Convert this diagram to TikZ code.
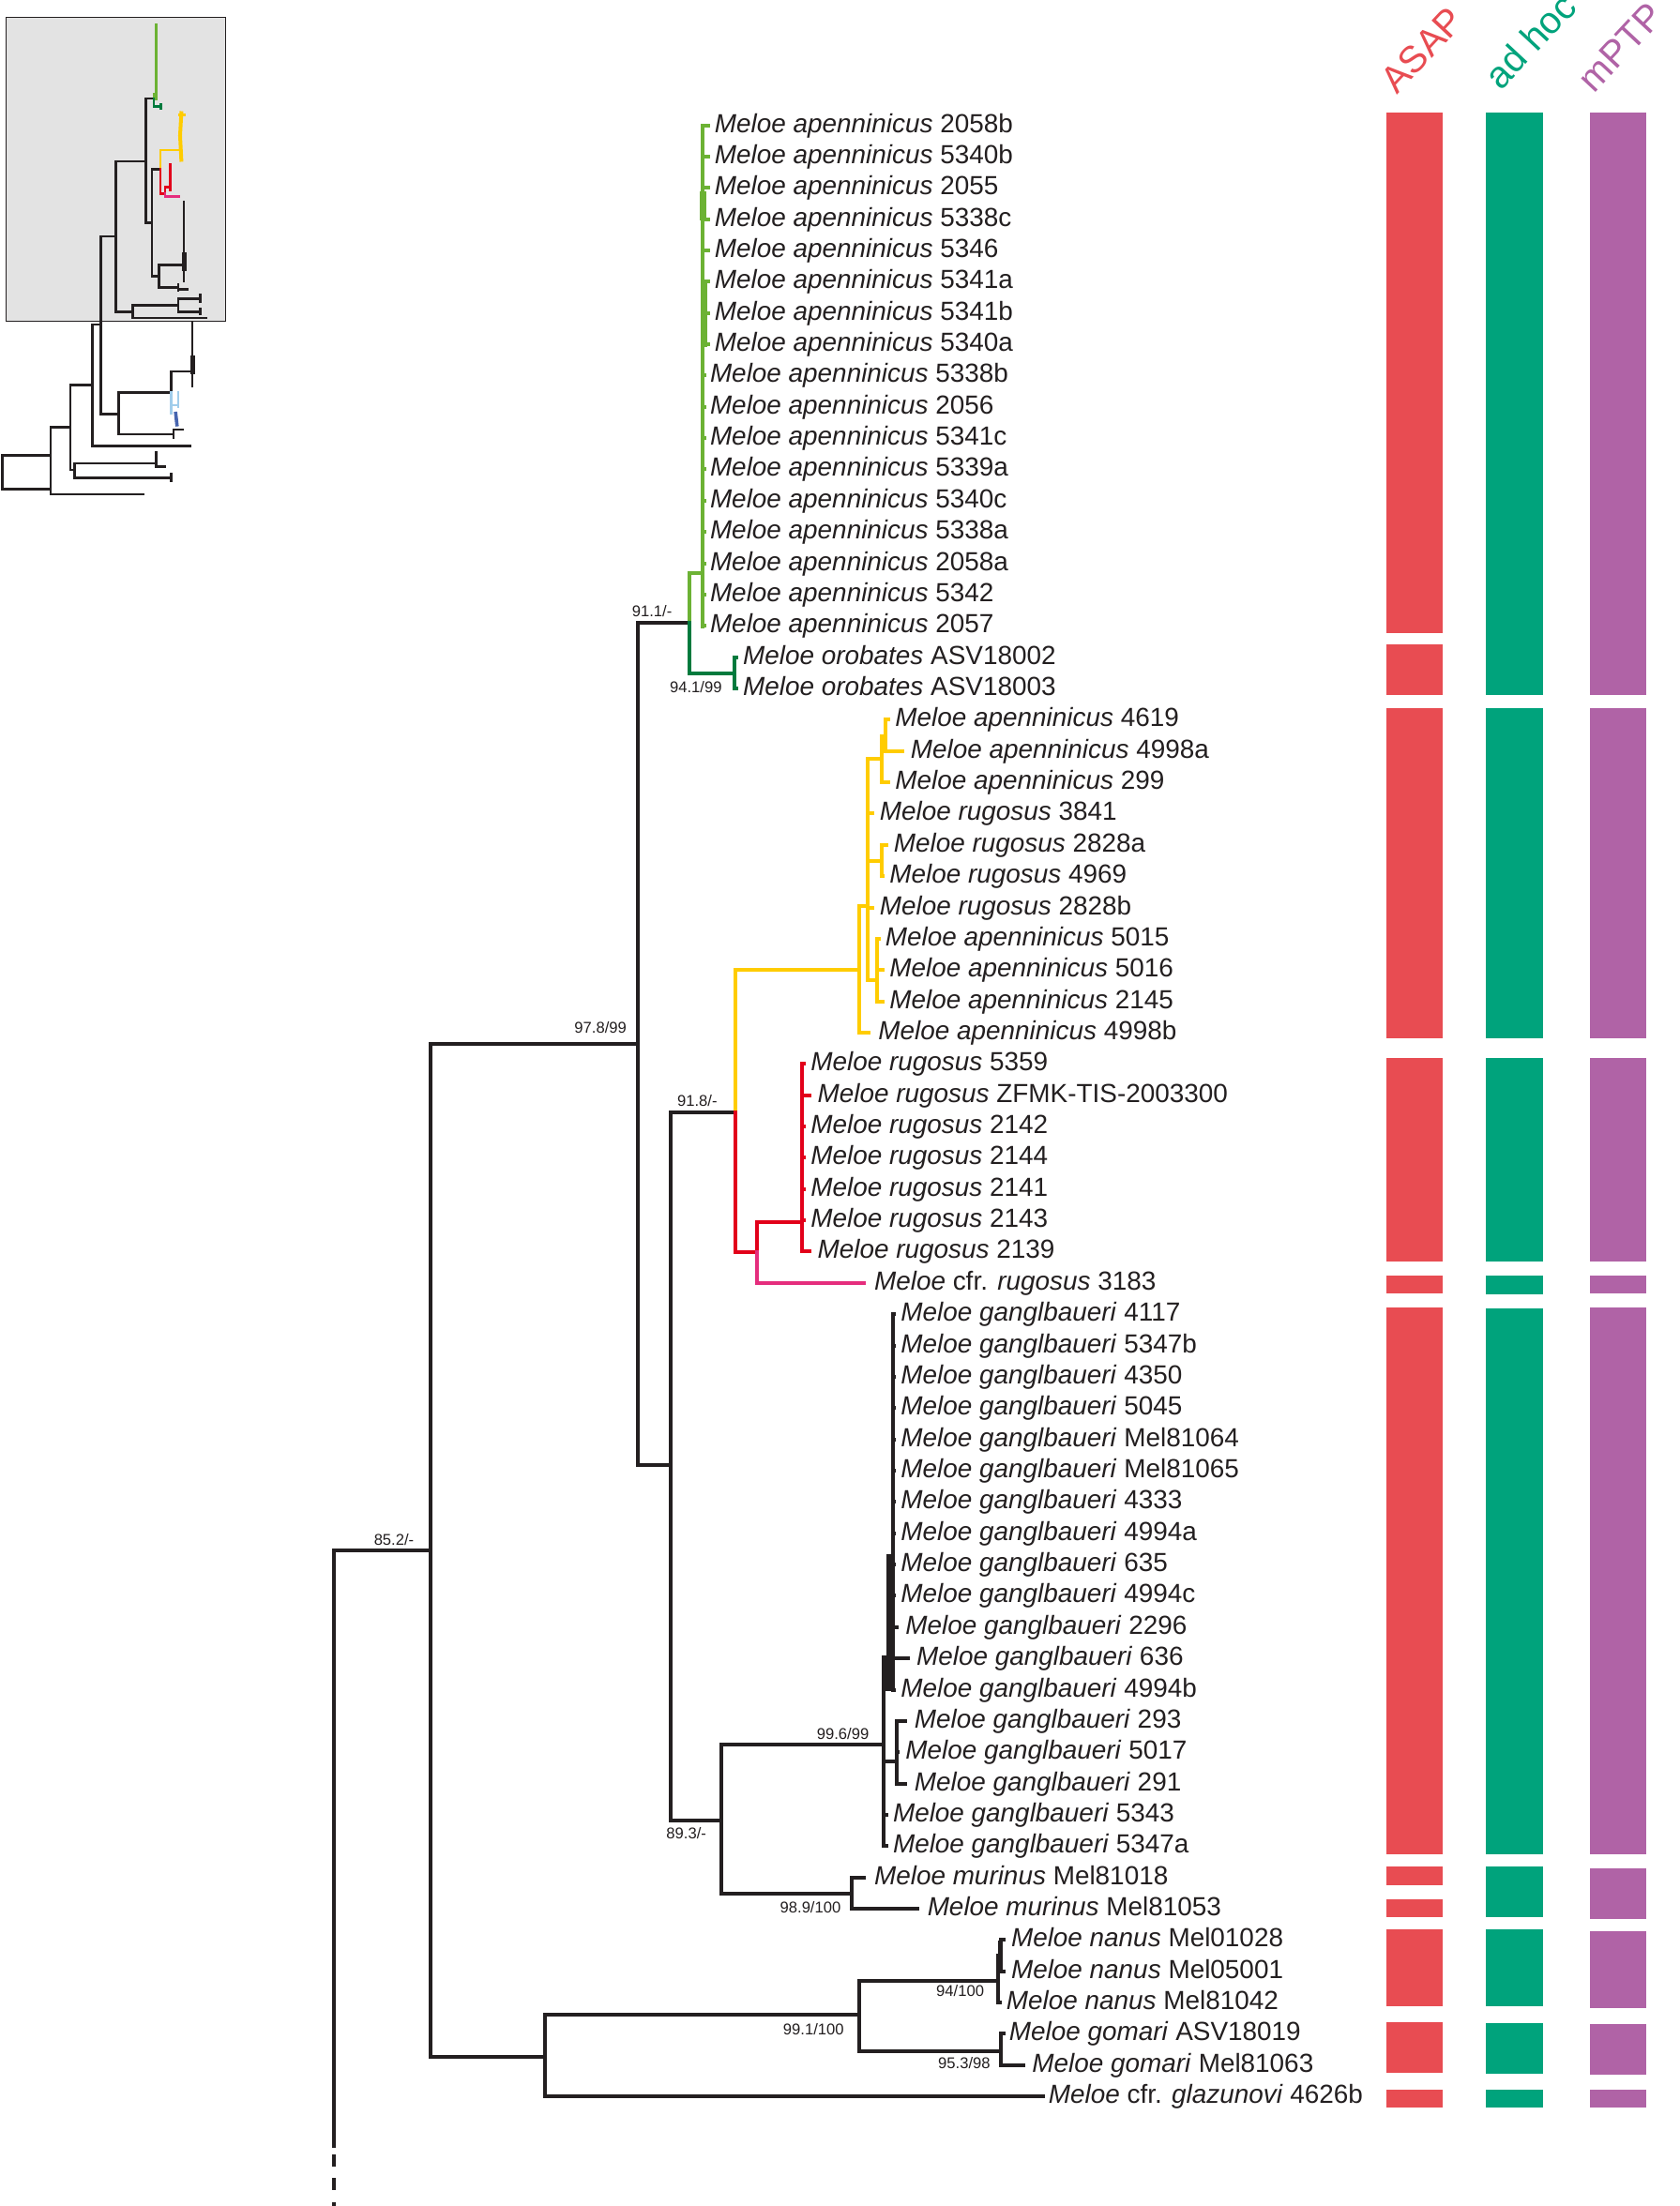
\documentclass[tikz,border=0pt]{standalone}
\usepackage{fontspec}
\setmainfont{Liberation Sans}
\definecolor{tblack}{RGB}{35,31,32}
\definecolor{lgreen}{RGB}{108,178,52}
\definecolor{dgreen}{RGB}{0,122,61}
\definecolor{tyellow}{RGB}{255,204,0}
\definecolor{tred}{RGB}{226,0,26}
\definecolor{tpink}{RGB}{229,45,125}
\definecolor{asap}{RGB}{232,76,82}
\definecolor{adhoc}{RGB}{0,163,124}
\definecolor{mptp}{RGB}{176,99,166}
\definecolor{insetgray}{RGB}{227,227,227}
\definecolor{lblue}{RGB}{160,205,235}
\definecolor{dblue}{RGB}{70,100,175}
\begin{document}
\begin{tikzpicture}[x=0.75pt,y=-0.75pt,
  br/.style={line width=2pt,draw=tblack,line cap=rect},
  brlg/.style={br,draw=lgreen},
  brdg/.style={br,draw=dgreen},
  bry/.style={br,draw=tyellow},
  brr/.style={br,draw=tred},
  brp/.style={br,draw=tpink},
  lab/.style={anchor=base west,inner sep=0pt,text=tblack,font=\fontsize{13.95}{16}\selectfont},
  sup/.style={anchor=east,inner sep=0pt,text=tblack,font=\fontsize{8.3}{10}\selectfont},
  hdr/.style={anchor=base west,inner sep=0pt,rotate=47,font=\fontsize{20}{24}\selectfont},
  ins/.style={line width=1.3pt,draw=tblack,line cap=rect}]
\useasboundingbox (0,0) rectangle (1194,1568);
\fill[white] (0,0) rectangle (1194,1568);

% ---------------- leaves ----------------
\foreach \i/\lx/\tx/\sp/\id in {
 0/507.7/503/apenninicus/2058b, 1/507.7/503/apenninicus/5340b, 2/507.7/503/apenninicus/2055,
 3/507.7/503/apenninicus/5338c, 4/507.7/503/apenninicus/5346, 5/507.7/503/apenninicus/5341a,
 6/507.7/503/apenninicus/5341b, 7/507.7/503/apenninicus/5340a, 8/504.4/500.5/apenninicus/5338b,
 9/504.4/500.5/apenninicus/2056, 10/504.4/500.5/apenninicus/5341c, 11/504.4/500.5/apenninicus/5339a,
 12/504.4/500.5/apenninicus/5340c, 13/504.4/500.5/apenninicus/5338a, 14/504.4/500.5/apenninicus/2058a,
 15/504.4/500.5/apenninicus/5342, 16/504.4/500.5/apenninicus/2057,
 17/527.8/523.5/orobates/ASV18002, 18/527.8/523.5/orobates/ASV18003,
 19/636/631/apenninicus/4619, 20/647/641/apenninicus/4998a, 21/636/631/apenninicus/299,
 22/625/620/rugosus/3841, 23/635/630/rugosus/2828a, 24/632/627.5/rugosus/4969,
 25/625/620/rugosus/2828b, 26/629/624.5/apenninicus/5015, 27/632/627/apenninicus/5016,
 28/632/627/apenninicus/2145, 29/624/617/apenninicus/4998b,
 30/576/571.5/rugosus/5359, 31/580.8/575/rugosus/ZFMK-TIS-2003300, 32/576/571.5/rugosus/2142,
 33/576/571.5/rugosus/2144, 34/576/571.5/rugosus/2141, 35/576/571.5/rugosus/2143,
 36/580.8/575/rugosus/2139,
 38/640/635.5/ganglbaueri/4117, 39/640/635.5/ganglbaueri/5347b, 40/640/635.5/ganglbaueri/4350,
 41/640/635.5/ganglbaueri/5045, 42/640/635.5/ganglbaueri/Mel81064, 43/640/635.5/ganglbaueri/Mel81065,
 44/640/635.5/ganglbaueri/4333, 45/640/635.5/ganglbaueri/4994a, 46/640/635.5/ganglbaueri/635,
 47/640/635.5/ganglbaueri/4994c, 48/643.3/637.5/ganglbaueri/2296, 49/651.1/645/ganglbaueri/636,
 50/640/635.5/ganglbaueri/4994b, 51/649.6/643/ganglbaueri/293, 52/643.3/638/ganglbaueri/5017,
 53/649.6/643/ganglbaueri/291, 54/634.4/630/ganglbaueri/5343, 55/634.4/630/ganglbaueri/5347a,
 56/621.1/614/murinus/Mel81018, 57/658.9/652/murinus/Mel81053,
 58/718.4/713.5/nanus/Mel01028, 59/718.4/713.5/nanus/Mel05001, 60/715/710.5/nanus/Mel81042,
 61/717/713/gomari/ASV18019, 62/733.3/727.5/gomari/Mel81063}
{
  \coordinate (t\i) at (\tx,{89+22.24*\i});
  \node[lab] (L\i) at (\lx,{94+22.24*\i}) {\textit{Meloe \sp} \id};
}
\coordinate (t37) at (614,{89+22.24*37});
\node[lab] (L37) at (621.1,{94+22.24*37}) {\textit{Meloe} cfr. \textit{rugosus} 3183};
\coordinate (t63) at (741,{89+22.24*63});
\node[lab] (L63) at (745,{94+22.24*63}) {\textit{Meloe} cfr. \textit{glazunovi} 4626b};

% ---------------- internal nodes ----------------
\coordinate (root) at (237.4,1102.2);
\coordinate (rootend) at (237.4,1525);
\coordinate (rootd1) at (237.4,1531.5);
\coordinate (rootd2) at (237.4,1572);
\coordinate (n852) at (306.2,1102.2);
\coordinate (n978) at (453.3,742);
\coordinate (n911) at (490,442.9);
\coordinate (nC) at (476.7,1041.6);
\coordinate (n918) at (522.7,790.4);
\coordinate (n893) at (512.9,1293.8);
\coordinate (n996) at (627.8,1240);
\coordinate (n989) at (605.6,1346.2);
\coordinate (nout) at (387.1,1461.8);
\coordinate (n991) at (610.7,1432.2);
\coordinate (n94) at (709.3,1407.8);
\coordinate (nNs) at (711.5,1390);
\coordinate (n953) at (711.1,1457.8);
\coordinate (ngl) at (499,407.5);
\coordinate (gtop) at (499,89);
\coordinate (gbot) at (499,445);
\coordinate (noro) at (522.2,478.9);
\coordinate (nY) at (610.7,689.6);
\coordinate (nY1) at (616.7,643.9);
\coordinate (nY2) at (626.7,539.3);
\coordinate (nY3) at (629.5,523);
\coordinate (nY4) at (626.7,612);
\coordinate (nY5) at (623.3,696.7);
\coordinate (nR1) at (537.8,890);
\coordinate (nR2) at (570,868.4);
\coordinate (nGu) at (634.4,1178);
\coordinate (nG293) at (637.3,1252.2);

% ---------------- black backbone ----------------
\draw[br] (root) -- (rootend);
\draw[line width=2pt,draw=tblack,dash pattern=on 6.3pt off 6.3pt] (rootd1) -- (rootd2);
\draw[br] (root) -- (n852);
\draw[br] (n852) |- (n978);
\draw[br] (n852) |- (nout);
\draw[br] (n978) |- (n911);
\draw[br] (n978) |- (nC);
\draw[br] (nC) |- (n918);
\draw[br] (nC) |- (n893);
\draw[br] (n893) |- (n996);
\draw[br] (n893) |- (n989);
\draw[br] (n989) |- (t56);
\draw[br] (n989) |- (t57);
\draw[br] (nout) |- (n991);
\draw[br] (nout) |- (t63);
\draw[br] (n991) |- (n94);
\draw[br] (n991) |- (n953);
\draw[br] (n94) |- (nNs);
\draw[br] (n94) |- (t60);
\draw[br] (nNs) |- (t58);
\draw[br] (nNs) |- (t59);
\fill[tblack] (709.3,1379) rectangle (712.8,1401);
\draw[br] (n953) |- (t61);
\draw[br] (n953) |- (t62);

% ganglbaueri
\draw[br] (n996) |- (t54);
\draw[br] (n996) |- (t55);
\draw[br] (n996) |- (nGu);
\foreach \i in {38,...,50} \draw[br] (nGu) |- (t\i);
\fill[tblack] (630,1104.4) rectangle (635.6,1202.2);
\fill[tblack] (627.8,1177.8) rectangle (635.6,1202.2);
\draw[br] (nG293 -| n996) -- (nG293);
\draw[br] (nG293) |- (t51);
\draw[br] (nG293) |- (t52);
\draw[br] (nG293) |- (t53);

% ---------------- green ----------------
\draw[brlg] (n911) |- (ngl);
\draw[brdg] (n911) |- (noro);
\draw[brlg] (gtop) -- (gbot);
\foreach \i in {0,...,16} \draw[brlg] (t\i -| gtop) -- (t\i);
\fill[lgreen] (497.5,135.9) rectangle (502.2,156.6);
\fill[lgreen] (499,200.9) rectangle (502.5,246.5);
\draw[brdg] (noro) |- (t17);
\draw[brdg] (noro) |- (t18);

% ---------------- yellow ----------------
\draw[bry] (n918) |- (nY);
\draw[bry] (nY) |- (t29);
\draw[bry] (nY) |- (nY1);
\draw[bry] (nY1) |- (nY2);
\draw[bry] (nY1) |- (t22);
\draw[bry] (nY1) |- (nY4);
\draw[bry] (nY1) |- (t25);
\draw[bry] (nY1) |- (nY5);
\draw[bry] (nY2) |- (nY3);
\draw[bry] (nY2) |- (t21);
\draw[bry] (nY3) |- (t19);
\draw[bry] (nY3) |- (t20);
\draw[bry] (nY4) |- (t23);
\draw[bry] (nY4) |- (t24);
\draw[bry] (nY5) |- (t26);
\draw[bry] (nY5) |- (t27);
\draw[bry] (nY5) |- (t28);

% ---------------- red / pink ----------------
\draw[brr] (n918) |- (nR1);
\draw[brr] (nR1) |- (nR2);
\draw[brp] (nR1) |- (t37);
\foreach \i in {30,...,36} \draw[brr] (nR2) |- (t\i);

% ---------------- support values ----------------
\node[sup] (s911) at (477.8,434.6) {91.1/-};
\node[sup] (s941) at (513.3,488.5) {94.1/99};
\node[sup] (s978) at (445.5,730.4) {97.8/99};
\node[sup] (s918) at (510,782.2) {91.8/-};
\node[sup] (s893) at (502.2,1303.3) {89.3/-};
\node[sup] (s996) at (617.8,1232.2) {99.6/99};
\node[sup] (s989) at (597.8,1355.6) {98.9/100};
\node[sup] (s991) at (600,1442.2) {99.1/100};
\node[sup] (s94) at (699.6,1415.1) {94/100};
\node[sup] (s953) at (704,1466.2) {95.3/98};
\node[sup] (s852) at (294.4,1094.4) {85.2/-};

% ---------------- delimitation bars ----------------
\foreach \a/\b in {80/450,458/494,503/738,752/896.7,906.7/919.3,929.3/1318,1326.7/1340,1350/1362.7,1371.3/1425.8,1437.3/1473.3,1485.3/1498}
  \fill[asap] (985.3,\a) rectangle (1025.3,\b);
\foreach \a/\b in {80/494,503/738,752/896.7,906.7/920,930/1318,1326.7/1362.7,1371.3/1425.8,1438.3/1474.3,1485.3/1498}
  \fill[adhoc] (1056,\a) rectangle (1096.7,\b);
\foreach \a/\b in {80/494,503/738,752/896.7,906.7/919.3,929.3/1318,1328/1364,1372.7/1427,1438.7/1474.7,1485.3/1498}
  \fill[mptp] (1130,\a) rectangle (1170,\b);

\node[hdr,text=asap] (hasap) at (993,68) {ASAP};
\node[hdr,text=adhoc] (hadhoc) at (1067,65) {ad hoc};
\node[hdr,text=mptp] (hmptp) at (1133,67) {mPTP};

% ---------------- inset overview tree ----------------
\begin{scope}[xscale=0.2222,yscale=0.22957]
\fill[insetgray,draw=tblack,line width=0.5pt] (20,55) rectangle (722,995);
\draw[ins] (8,1410) -- (162,1410);
\draw[ins] (8,1410) -- (8,1515) -- (160,1515);
\draw[ins] (162,1322) -- (162,1530) -- (458,1530);
\draw[ins] (162,1322) -- (225,1322);
\draw[ins] (296,1192) -- (225,1192) -- (225,1455) -- (238,1455);
\draw[ins] (500,1435) -- (238,1435) -- (238,1480) -- (548,1480);
\draw[ins] (500,1400) -- (500,1445) -- (528,1445);
\draw[ins] (548,1468) -- (548,1490);
\draw[ins] (322,1005) -- (296,1005) -- (296,1380) -- (607,1380);
\draw[ins] (370,732) -- (322,732) -- (322,1282) -- (380,1282);
\draw[ins] (548,1215) -- (380,1215) -- (380,1345) -- (555,1345);
\draw[ins] (555,1330) -- (555,1356);
\draw[ins] (555,1330) -- (585,1330);
\draw[ins] (548,1215) -- (548,1150) -- (612,1150);
\draw[ins] (615,1000) -- (615,1195);
\fill[tblack] (608,1100) rectangle (624,1160);
\draw[ins] (466,500) -- (370,500) -- (370,965) -- (425,965);
\draw[ins] (570,945) -- (425,945) -- (425,985) -- (658,985);
\draw[ins] (640,925) -- (570,925) -- (570,965) -- (640,965);
\draw[ins] (640,912) -- (640,935);
\draw[ins] (640,955) -- (640,972);
\draw[ins] (492,305) -- (466,305) -- (466,690) -- (486,690);
\draw[ins] (513,525) -- (486,525) -- (486,855) -- (508,855);
\draw[ins] (588,820) -- (508,820) -- (508,890) -- (570,890);
\draw[ins] (570,880) -- (570,898);
\draw[ins] (570,895) -- (598,895);
\draw[ins] (588,625) -- (588,870);
\fill[tblack] (582,780) rectangle (596,840);
\draw[ins,draw=lgreen] (492,305) -- (492,290) -- (500,290);
\draw[ins,draw=lgreen,line width=1.8pt] (500,78) -- (500,305);
\draw[ins,draw=dgreen] (492,305) -- (492,330) -- (515,330);
\draw[ins,draw=dgreen] (515,322) -- (515,335);
\draw[ins,draw=tyellow] (513,525) -- (513,465) -- (575,465);
\draw[ins,draw=tyellow,line width=2pt] (580,350) -- (576,420) -- (580,495);
\draw[ins,draw=tyellow] (575,355) -- (590,355);
\draw[ins,draw=tred] (513,525) -- (513,600) -- (528,600);
\draw[ins,draw=tred] (528,600) -- (528,580) -- (545,580);
\draw[ins,draw=tred] (545,510) -- (545,590);
\draw[ins,draw=tpink] (528,600) -- (528,608) -- (573,608);
\draw[ins,draw=lblue] (548,1215) -- (548,1280);
\draw[ins,draw=lblue] (548,1255) -- (570,1255);
\draw[ins,draw=lblue] (570,1215) -- (570,1260);
\draw[ins,draw=dblue,line width=1.8pt] (562,1280) -- (566,1315);
\end{scope}
\end{tikzpicture}
\end{document}
